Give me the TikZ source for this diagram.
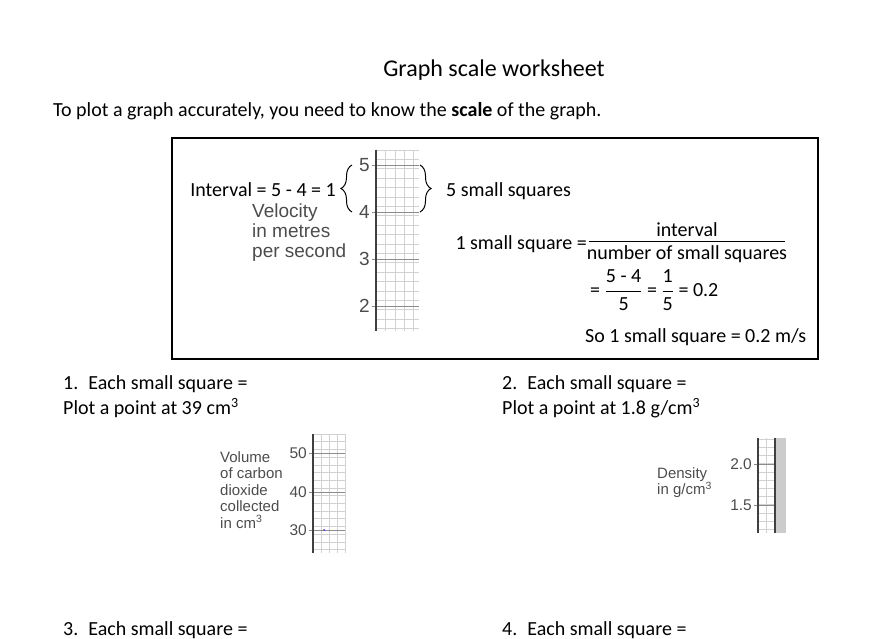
\documentclass[tikz,border=0pt]{standalone}
\usepackage{fontspec}
\setmainfont{Carlito}
\newfontfamily\axf{Liberation Sans}
\usetikzlibrary{decorations.pathreplacing}
\begin{document}
\begin{tikzpicture}[x=1pt,y=-1pt,
  txt/.style={anchor=west,inner sep=0pt,font=\fontsize{20}{24}\selectfont},
  axl/.style={inner sep=0pt,font=\axf\fontsize{15.5}{17}\selectfont,text=black!70},
  gridl/.style={draw=black!18,line width=0.6pt},
  majl/.style={draw=black!45,line width=0.7pt},
  axisl/.style={draw=black!75,line width=1.4pt}]
\useasboundingbox (0,0) rectangle (895,639);
\node[inner sep=0pt,font=\fontsize{24}{28}\selectfont] (title) at (494,70) {Graph scale worksheet};
\node[txt] (intro) at (53,111) {To plot a graph accurately, you need to know the \textbf{scale} of the graph.};
\node[draw,line width=1.6pt,minimum width=646,minimum height=221,anchor=north west] (box) at (171,137) {};
% main grid
\foreach \i in {0,...,19} {\draw[gridl] (376,{150+\i*9.4}) -- (419,{150+\i*9.4});}
\foreach \x in {385.4,394.8,404.2,413.6} {\draw[gridl] (\x,150) -- (\x,331);}
\foreach \v/\y in {5/165,4/212,3/259,2/306} {
  \draw[majl] (372,\y) -- (419,\y);
  \node[axl,anchor=east,font=\axf\fontsize{19}{21}\selectfont] (m\v) at (370,\y) {\v};}
\draw[axisl] (376,150) -- (376,331);
\node[axl,anchor=north west,align=left,font=\axf\fontsize{19}{20}\selectfont] (vel) at (252,204) {Velocity\\in metres\\per second};
\coordinate (bl1) at (352,165); \coordinate (bl2) at (352,212);
\draw[decorate,decoration={brace,amplitude=11pt},line width=1pt] (bl2) -- (bl1);
\coordinate (br1) at (420,165); \coordinate (br2) at (420,212);
\draw[decorate,decoration={brace,amplitude=11pt},line width=1pt] (br1) -- (br2);
\node[txt,anchor=east] (intv) at (336,190) {Interval = 5 - 4 = 1};
\node[txt] (five) at (446,191) {5 small squares};
\node[txt,anchor=east] (one) at (587,244) {1 small square =};
\draw[line width=0.8pt] (589,241) -- (785,241);
\node[txt,anchor=south] (intl) at (687,237) {interval};
\node[txt,anchor=north] (nums) at (687,245) {number of small squares};
\node[txt] (eq) at (590,290) {= $\displaystyle\frac{\hbox{5 - 4}}{\hbox{5}}$ = $\displaystyle\frac{\hbox{1}}{\hbox{5}}$ = 0.2};
\node[txt] (so) at (585,337) {So 1 small square = 0.2 m/s};
% questions
\node[txt] (q1) at (63,384) {1.\hspace{10pt}Each small square =};
\node[txt] (p1) at (63,408) {Plot a point at 39 cm\textsuperscript{3}};
\node[txt] (q2) at (502,384) {2.\hspace{10pt}Each small square =};
\node[txt] (p2) at (502,408) {Plot a point at 1.8 g/cm\textsuperscript{3}};
\node[txt] (q3) at (63,630) {3.\hspace{10pt}Each small square =};
\node[txt] (q4) at (502,630) {4.\hspace{10pt}Each small square =};
% graph 1
\foreach \i in {0,...,15} {\draw[gridl] (313,{434+\i*7.7}) -- (345,{434+\i*7.7});}
\foreach \x in {321,329,337,345} {\draw[gridl] (\x,434) -- (\x,553);}
\foreach \v/\y in {50/453,40/492,30/530} {
  \draw[majl] (309,\y) -- (345,\y);
  \node[axl,anchor=east] (g1\v) at (307,\y) {\v};}
\draw[axisl,line width=1.1pt] (313,434) -- (313,553);
\node[axl,anchor=north west,align=left,font=\axf\fontsize{15}{16.5}\selectfont] (vol) at (220,451) {Volume\\of carbon\\dioxide\\collected\\in cm\textsuperscript{3}};
\fill[blue!80] (324,530) circle (1);
% graph 2
\fill[black!20] (775,438) rectangle (786,533);
\foreach \i in {0,...,11} {\draw[gridl] (758,{439+\i*8.2}) -- (775,{439+\i*8.2});}
\draw[gridl] (766.5,438) -- (766.5,533);
\foreach \v/\y in {2.0/464,1.5/505} {
  \draw[majl] (754,\y) -- (775,\y);
  \node[axl,anchor=east] (g2\v) at (752,\y) {\v};}
\draw[axisl,line width=1.1pt] (758,438) -- (758,533);
\draw[axisl,line width=1.1pt] (775,438) -- (775,533);
\node[axl,anchor=north west,align=left,font=\axf\fontsize{15}{16.5}\selectfont] (den) at (657,467) {Density\\in g/cm\textsuperscript{3}};
\end{tikzpicture}
\end{document}
